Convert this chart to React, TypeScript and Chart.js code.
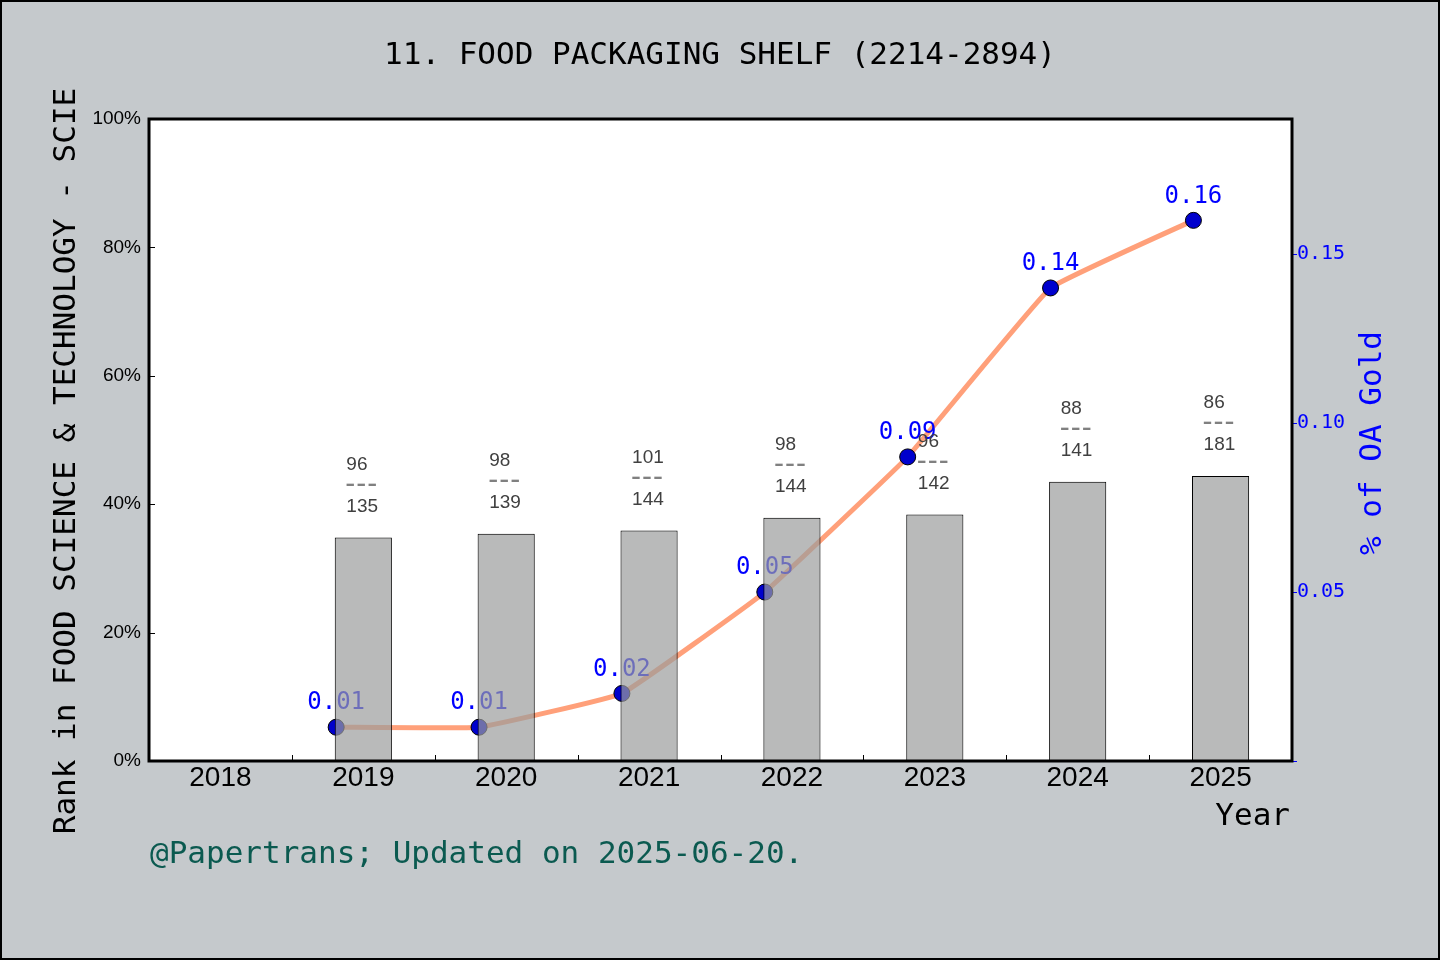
import { useEffect, useRef } from 'react';
import { Chart, registerables } from 'chart.js';

Chart.register(...registerables);

// ---- data ----
const YEARS = ['2018', '2019', '2020', '2021', '2022', '2023', '2024', '2025'];
// bar height on the left axis (%)
const RANK_SHARE: (number | null)[] = [null, 34.8, 35.4, 35.9, 37.9, 38.4, 43.5, 44.4];
// rank / journals in category, printed above each bar
const RANK_NUM: (number | null)[] = [null, 96, 98, 101, 98, 96, 88, 86];
const RANK_TOTAL: (number | null)[] = [null, 135, 139, 144, 144, 142, 141, 181];
// share of gold open access papers (right axis)
const OA_GOLD: (number | null)[] = [null, 0.01, 0.01, 0.02, 0.05, 0.09, 0.14, 0.16];
const LEFT_TICK_STEP = 20;
const RIGHT_TICK_STEP = 0.05;

const TITLE = '11. FOOD PACKAGING SHELF (2214-2894)';
const LEFT_TITLE = 'Rank in FOOD SCIENCE & TECHNOLOGY - SCIE';
const RIGHT_TITLE = '% of OA Gold';
const X_TITLE = 'Year';
const FOOTNOTE = '@Papertrans; Updated on 2025-06-20.';

// ---- styling ----
const W = 1440;
const H = 960;
const BG = '#c5c9cc';
const MONO = '"DejaVu Sans Mono", "Liberation Mono", monospace';
const SANS = '"Liberation Sans", Arial, sans-serif';
const BLUE = '#0000ff';
const LINE_SHIFT = -0.19; // line points sit on the left edge of each bar

const lineData = OA_GOLD.map((v, i) => (v == null ? null : { x: i + LINE_SHIFT, y: v })).filter(
  (p) => p !== null
) as { x: number; y: number }[];

const decorPlugin = {
  id: 'decor',
  beforeDraw(chart: any) {
    const { ctx, chartArea: a } = chart;
    ctx.save();
    ctx.fillStyle = BG;
    ctx.fillRect(0, 0, W, H);
    ctx.fillStyle = '#ffffff';
    ctx.fillRect(a.left, a.top, a.right - a.left, a.bottom - a.top);
    ctx.restore();
  },
  afterDatasetDraw(chart: any, args: any) {
    if (args.index !== 1) return;
    // value labels of the line, drawn before the bars so the bars tint them
    const { ctx } = chart;
    const meta = chart.getDatasetMeta(1);
    ctx.save();
    ctx.font = `24px ${MONO}`;
    ctx.fillStyle = BLUE;
    ctx.textAlign = 'center';
    ctx.textBaseline = 'middle';
    meta.data.forEach((pt: any, j: number) => {
      ctx.fillText(lineData[j].y.toFixed(2), pt.x, pt.y - 24);
    });
    ctx.restore();
  },
  afterDatasetsDraw(chart: any) {
    const { ctx } = chart;
    const meta = chart.getDatasetMeta(0);
    ctx.save();
    ctx.textBaseline = 'middle';
    ctx.textAlign = 'left';
    meta.data.forEach((bar: any, i: number) => {
      if (RANK_SHARE[i] == null) return;
      const left = bar.x - 17;
      ctx.font = `19px ${SANS}`;
      ctx.fillStyle = '#404040';
      ctx.letterSpacing = '0px';
      ctx.fillText(String(RANK_NUM[i]), left, bar.y - 73);
      ctx.fillText(String(RANK_TOTAL[i]), left, bar.y - 31);
      ctx.font = `30px ${SANS}`;
      ctx.fillStyle = '#808080';
      ctx.letterSpacing = '1px';
      ctx.fillText('---', left - 1, bar.y - 53);
      ctx.letterSpacing = '0px';
    });
    ctx.restore();
  },
  afterDraw(chart: any) {
    const { ctx, chartArea: a } = chart;
    const xs = chart.scales.x;
    const ys = chart.scales.y;
    ctx.save();
    // inward tick marks: x at category boundaries, left axis at value ticks
    ctx.strokeStyle = '#000';
    ctx.lineWidth = 1;
    ctx.beginPath();
    for (let i = 1; i < YEARS.length; i++) {
      const px = Math.round((xs.getPixelForValue(i - 1) + xs.getPixelForValue(i)) / 2) + 0.5;
      ctx.moveTo(px, a.bottom);
      ctx.lineTo(px, a.bottom - 6);
    }
    ys.ticks.forEach((t: any) => {
      const py = Math.round(ys.getPixelForValue(t.value)) + 0.5;
      ctx.moveTo(a.left, py);
      ctx.lineTo(a.left + 6, py);
    });
    ctx.stroke();

    // plot frame
    ctx.lineWidth = 3;
    ctx.strokeRect(a.left, a.top, a.right - a.left, a.bottom - a.top);

    // titles
    ctx.fillStyle = '#000';
    ctx.font = `31px ${MONO}`;
    ctx.textAlign = 'center';
    ctx.textBaseline = 'middle';
    ctx.fillText(TITLE, W / 2, 56);

    ctx.textAlign = 'right';
    ctx.fillText(X_TITLE, a.right - 2, 817);

    ctx.textAlign = 'left';
    ctx.fillStyle = '#0b5a50';
    ctx.fillText(FOOTNOTE, 150, 855);

    ctx.save();
    ctx.translate(67, 461);
    ctx.rotate(-Math.PI / 2);
    ctx.textAlign = 'center';
    ctx.fillStyle = '#000';
    ctx.fillText(LEFT_TITLE, 0, 0);
    ctx.restore();

    ctx.save();
    ctx.translate(1373, 443);
    ctx.rotate(-Math.PI / 2);
    ctx.textAlign = 'center';
    ctx.fillStyle = BLUE;
    ctx.fillText(RIGHT_TITLE, 0, 0);
    ctx.restore();

    // outer border
    ctx.strokeStyle = '#000';
    ctx.lineWidth = 2;
    ctx.strokeRect(1, 1, W - 2, H - 2);
    ctx.restore();
  },
};

export default function App() {
  const ref = useRef<HTMLCanvasElement>(null);

  useEffect(() => {
    document.body.style.margin = '0';
    const canvas = ref.current;
    if (!canvas) return;
    const chart = new Chart(canvas, {
      type: 'bar',
      data: {
        labels: YEARS,
        datasets: [
          {
            type: 'bar',
            label: 'Rank',
            data: RANK_SHARE,
            xAxisID: 'x',
            yAxisID: 'y',
            backgroundColor: 'rgba(155,156,157,0.7)',
            borderColor: '#000',
            borderWidth: 1,
            barPercentage: 0.4,
            categoryPercentage: 1,
            grouped: false,
            order: 0,
          },
          {
            type: 'line',
            label: 'OA Gold',
            data: lineData as any,
            xAxisID: 'x2',
            yAxisID: 'y1',
            borderColor: '#ffa07a',
            borderWidth: 5,
            tension: 0.08,
            pointRadius: 8,
            pointBackgroundColor: '#0000cd',
            pointBorderColor: '#000',
            pointBorderWidth: 1,
            order: 1,
          },
        ],
      } as any,
      options: {
        responsive: false,
        animation: false,
        devicePixelRatio: 1,
        layout: { padding: { top: 119, left: 0, right: 0, bottom: 0 } },
        plugins: { legend: { display: false }, tooltip: { enabled: false }, title: { display: false } },
        scales: {
          x: {
            type: 'category',
            position: 'bottom',
            offset: true,
            grid: { display: false, drawTicks: false },
            border: { display: false },
            ticks: {
              font: { family: SANS, size: 28 },
              color: '#000',
              padding: 0,
              maxRotation: 0,
              autoSkip: false,
            },
            afterFit: (s: any) => {
              s.height = H - 761;
            },
          },
          x2: {
            type: 'linear',
            position: 'bottom',
            offset: false,
            min: -0.5,
            max: YEARS.length - 0.5,
            grid: { display: false, drawTicks: false, offset: false },
            border: { display: false },
            ticks: { display: false },
            afterFit: (s: any) => {
              s.height = 0;
            },
          },
          y: {
            position: 'left',
            min: 0,
            max: 100,
            grid: { display: false, drawTicks: false },
            border: { display: false },
            ticks: {
              stepSize: LEFT_TICK_STEP,
              font: { family: SANS, size: 19 },
              color: '#000',
              padding: 8,
              callback: (v: any) => `${v}%`,
            },
            afterFit: (s: any) => {
              s.width = 149;
            },
          },
          y1: {
            position: 'right',
            min: 0,
            max: 0.19,
            grid: { drawOnChartArea: false, color: BLUE, tickLength: 5, lineWidth: 1 },
            border: { display: false },
            ticks: {
              stepSize: RIGHT_TICK_STEP,
              font: { family: MONO, size: 20 },
              color: BLUE,
              padding: 0,
              callback: (v: any) => (v === 0 ? '' : Number(v).toFixed(2)),
            },
            afterBuildTicks: (s: any) => {
              s.ticks = s.ticks.filter(
                (t: any) => Math.abs(t.value / RIGHT_TICK_STEP - Math.round(t.value / RIGHT_TICK_STEP)) < 1e-6
              );
            },
            afterFit: (s: any) => {
              s.width = W - 1292;
            },
          },
        },
      } as any,
      plugins: [decorPlugin],
    });
    return () => chart.destroy();
  }, []);

  return <canvas ref={ref} width={W} height={H} style={{ display: 'block', width: W, height: H }} />;
}
